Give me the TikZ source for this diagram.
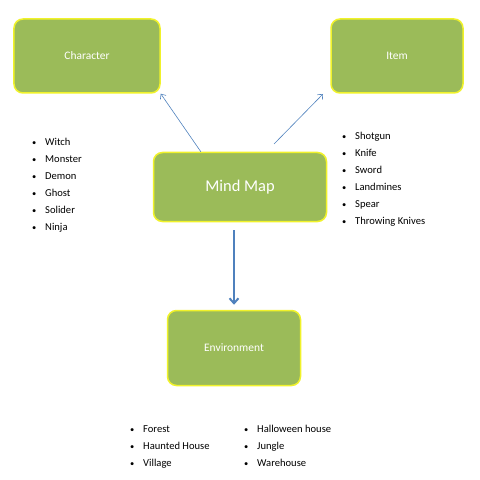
\documentclass[tikz,border=0pt]{standalone}
\usepackage{fontspec}
\setmainfont{Carlito}
\usetikzlibrary{arrows.meta}
\definecolor{topicgreen}{HTML}{9BBB59}
\definecolor{topicedge}{HTML}{F0F22A}
\definecolor{linkblue}{HTML}{4F81BD}
\newcommand{\bul}[1]{\makebox[13bp][l]{\scalebox{0.8}{\textbullet}}#1}

\begin{document}
\begin{tikzpicture}[x=1bp,y=-1bp,
  topic/.style={rectangle, rounded corners=9bp, fill=topicgreen, draw=topicedge,
    line width=1.5bp, text=white, minimum width=146bp, minimum height=74bp,
    font=\fontsize{11.5}{13}\selectfont},
  items/.style={align=left, anchor=base west, inner sep=0pt,
    font=\fontsize{10.6}{17}\selectfont},
  link/.style={draw=linkblue, line width=0.6bp, -{Straight Barb[length=4bp,width=7bp]}},
  biglink/.style={draw=linkblue, line width=2bp, -{Straight Barb[length=5bp,width=9bp]}}]
\useasboundingbox (0,0) rectangle (480,480);

\node[topic] (char) at (87,56) {Character};
\node[topic, minimum width=132bp] (item) at (397,56) {Item};
\node[topic, minimum width=173bp, minimum height=69bp,
  font=\fontsize{16.5}{18}\selectfont] (mind) at (240,187) {Mind Map};
\node[topic, minimum width=133bp, minimum height=75bp] (env) at (234,348) {Environment};

\coordinate (itemtail) at (274,144);
\coordinate (itemtip) at (323,94);

\draw[link] (mind.138) -- (char.south east);
\draw[link] (itemtail) -- (itemtip);
\draw[biglink, shorten <=8bp, shorten >=5bp] (env.north |- mind.south) -- (env.north);

% lists are placed by the baseline of their last line
\node[items] (charlist) at (32,230) {\bul{Witch}\\ \bul{Monster}\\ \bul{Demon}\\
  \bul{Ghost}\\ \bul{Solider}\\ \bul{Ninja}};
\node[items] (itemlist) at (342,224) {\bul{Shotgun}\\ \bul{Knife}\\ \bul{Sword}\\
  \bul{Landmines}\\ \bul{Spear}\\ \bul{Throwing Knives}};
\node[items] (envlist) at (130,466) {\bul{Forest}\\ \bul{Haunted House}\\ \bul{Village}};
\node[items] (envlist2) at (244,466) {\bul{Halloween house}\\ \bul{Jungle}\\ \bul{Warehouse}};
\end{tikzpicture}
\end{document}
